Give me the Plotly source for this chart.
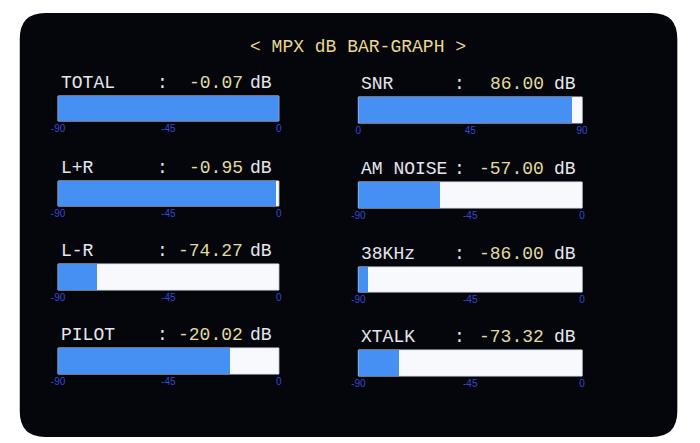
import plotly.graph_objects as go

W, H = 700, 443

# ---- data ----
names = ["TOTAL", "L+R", "L-R", "PILOT", "SNR", "AM NOISE", "38KHz", "XTALK"]
values = [-0.07, -0.95, -74.27, -20.02, 86.00, -57.00, -86.00, -73.32]
range_min = [-90, -90, -90, -90, 0, -90, -90, -90]
range_max = [0, 0, 0, 0, 90, 0, 0, 0]
tick_labels = [["-90", "-45", "0"]] * 4 + [["0", "45", "90"]] + [["-90", "-45", "0"]] * 3
title_text = "&lt; MPX dB BAR-GRAPH &gt;"

# ---- layout (pixels) ----
col_x = [(52, 277)] * 4 + [(358, 586)] * 4
bar_y = [(96, 121), (181, 206), (264, 290), (348, 374),
         (97, 123), (182, 208), (267, 292), (350, 376)]
colon_x = [158] * 4 + [461] * 4
val_right = [243] * 4 + [549] * 4
db_right = [272] * 4 + [582] * 4

BG = "#05060c"
BLUE = "#4590f2"
TICK = "#3447d6"
WHITE_TXT = "#e6e6ee"
YEL = "#e0dca0"
FONT = "Liberation Mono, DejaVu Sans Mono, monospace"

def px(x):
    return x / W

def py(y):
    return 1 - y / H

# rounded dark screen
L, T, R, B, r = 13, 13, 683, 437, 26
path = (f"M {px(L + r)} {py(T)} L {px(R - r)} {py(T)} Q {px(R)} {py(T)} {px(R)} {py(T + r)} "
        f"L {px(R)} {py(B - r)} Q {px(R)} {py(B)} {px(R - r)} {py(B)} "
        f"L {px(L + r)} {py(B)} Q {px(L)} {py(B)} {px(L)} {py(B - r)} "
        f"L {px(L)} {py(T + r)} Q {px(L)} {py(T)} {px(L + r)} {py(T)} Z")
shapes = [dict(type="path", path=path, xref="paper", yref="paper",
               fillcolor=BG, line=dict(width=0), layer="below")]

fig = go.Figure()
annotations = []
for i in range(8):
    ax = "" if i == 0 else str(i + 1)
    fig.add_trace(go.Bar(
        x=[values[i] - range_min[i]], base=[range_min[i]], y=[0],
        orientation="h", width=1, marker=dict(color=BLUE, line=dict(width=0)),
        xaxis="x" + ax, yaxis="y" + ax, showlegend=False, hoverinfo="skip"))
    x0, x1 = col_x[i]
    y0, y1 = bar_y[i]
    mid = (range_min[i] + range_max[i]) / 2
    fig.update_layout(**{
        "xaxis" + ax: dict(domain=[px(x0), px(x1)], range=[range_min[i], range_max[i]],
                           anchor="y" + ax, tickvals=[range_min[i], mid, range_max[i]],
                           ticktext=tick_labels[i], showgrid=False, zeroline=False,
                           tickfont=dict(color=TICK, size=10, family="Liberation Sans Narrow, Liberation Sans, sans-serif"),
                           ticks="", ticklen=0, showline=False, fixedrange=True),
        "yaxis" + ax: dict(domain=[py(y1), py(y0)], range=[-0.5, 0.5], anchor="x" + ax,
                           showticklabels=False, showgrid=False, zeroline=False,
                           showline=False, fixedrange=True),
    })
    # white track behind the bar
    shapes.append(dict(type="rect", xref=f"x{ax} domain", yref=f"y{ax} domain",
                       x0=0, x1=1, y0=0, y1=1, fillcolor="#f8f9fd",
                       line=dict(width=1, color="#dfe5f3"), layer="below"))
    ly = y0 - 13
    annotations += [
        dict(x=px(x0 + 1), y=py(ly), xref="paper", yref="paper", text=names[i],
             showarrow=False, xanchor="left", yanchor="middle",
             font=dict(color=WHITE_TXT, size=18, family=FONT)),
        dict(x=px(colon_x[i]), y=py(ly), xref="paper", yref="paper", text=":",
             showarrow=False, xanchor="center", yanchor="middle",
             font=dict(color=WHITE_TXT, size=18, family=FONT)),
        dict(x=px(val_right[i]), y=py(ly), xref="paper", yref="paper",
             text=f"{values[i]:.2f}", showarrow=False, xanchor="right", yanchor="middle",
             font=dict(color=YEL, size=18, family=FONT)),
        dict(x=px(db_right[i]), y=py(ly), xref="paper", yref="paper", text="dB",
             showarrow=False, xanchor="right", yanchor="middle",
             font=dict(color=WHITE_TXT, size=18, family=FONT)),
    ]

annotations.append(dict(x=px(358), y=py(47), xref="paper", yref="paper", text=title_text,
                        showarrow=False, xanchor="center", yanchor="middle",
                        font=dict(color="#e8d890", size=18, family=FONT)))

fig.update_layout(
    width=W, height=H, margin=dict(l=0, r=0, t=0, b=0),
    paper_bgcolor="white", plot_bgcolor="rgba(0,0,0,0)",
    shapes=shapes, annotations=annotations, bargap=0,
)
fig.write_html("out.html", config={"displayModeBar": False},
               post_script="document.body.style.margin='0';document.body.style.overflow='hidden';")
